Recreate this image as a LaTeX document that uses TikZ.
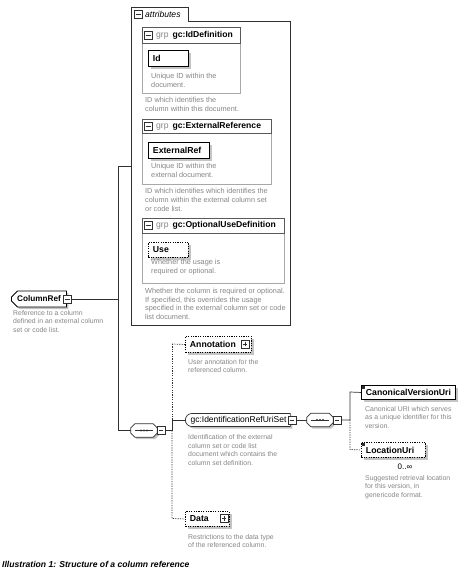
\documentclass[tikz,border=0pt]{standalone}
\usepackage{fontspec}
\setmainfont{Liberation Sans}
\usetikzlibrary{shapes.misc,shadows}
\definecolor{descc}{HTML}{858585}
\definecolor{linec}{HTML}{303030}
\definecolor{grpc}{HTML}{A8A8A8}
\definecolor{shadc}{HTML}{C4C4C4}
\newcommand\seqoct[1]{%
  \fill[shadc, transform canvas={xshift=2pt,yshift=-2pt}] ([xshift=4pt]#1.north west) -- ([xshift=-4pt]#1.north east) -- ([yshift=-4pt]#1.north east) -- ([yshift=4pt]#1.south east) -- ([xshift=-4pt]#1.south east) -- ([xshift=4pt]#1.south west) -- ([yshift=4pt]#1.south west) -- ([yshift=-4pt]#1.north west) -- cycle;
  \draw[linec, line width=0.7pt, fill=white] ([xshift=4pt]#1.north west) -- ([xshift=-4pt]#1.north east) -- ([yshift=-4pt]#1.north east) -- ([yshift=4pt]#1.south east) -- ([xshift=-4pt]#1.south east) -- ([xshift=4pt]#1.south west) -- ([yshift=4pt]#1.south west) -- ([yshift=-4pt]#1.north west) -- cycle;
  \draw[linec, line width=0.6pt] ([xshift=4pt]#1.west) -- ([xshift=-4pt]#1.east);
  \fill[linec] ([xshift=-3pt]#1.center) circle (1.1pt) (#1.center) circle (1.1pt) ([xshift=3pt]#1.center) circle (1.1pt);}
\begin{document}
\begin{tikzpicture}[x=1pt,y=-1pt,
  conn/.style={draw=linec, line width=0.7pt},
  opt/.style={draw=linec, line width=0.7pt, dash pattern=on 1.2pt off 1.2pt},
  desc/.style={anchor=north west, inner sep=0pt, text=descc, font=\fontsize{6.9}{8.5}\selectfont, align=left},
  descA/.style={desc, font=\fontsize{7.3}{8.6}\selectfont},
  elembox/.style={draw=black, line width=0.9pt, fill=white, anchor=north west, inner xsep=4.5pt, inner ysep=0pt, align=left, font=\bfseries\fontsize{8.7}{9}\selectfont, drop shadow={shadow xshift=2.5pt, shadow yshift=-2.5pt, fill=shadc, opacity=1}},
  optbox/.style={elembox, dash pattern=on 1.2pt off 1.2pt},
  grpbox/.style={draw=grpc, line width=0.8pt, fill=white, anchor=north west, inner sep=0pt},
  grphead/.style={draw=linec!80, line width=0.7pt, anchor=north west, inner sep=0pt},
  grptext/.style={anchor=west, inner sep=0pt, font=\fontsize{8.6}{9}\selectfont},
  seqnode/.style={minimum width=26pt, minimum height=13pt, inner sep=0pt},
  mbox/.style={draw=linec, fill=white, line width=0.5pt, minimum size=8pt, inner sep=0pt,
    path picture={\draw[linec, line width=0.6pt] ([xshift=1.6pt]path picture bounding box.west) -- ([xshift=-1.6pt]path picture bounding box.east);}},
  pbox/.style={draw=linec, fill=white, line width=0.5pt, minimum size=8pt, inner sep=0pt,
    path picture={\draw[linec, line width=0.6pt] ([xshift=1.6pt]path picture bounding box.west) -- ([xshift=-1.6pt]path picture bounding box.east);
      \draw[linec, line width=0.6pt] ([yshift=-1.6pt]path picture bounding box.north) -- ([yshift=1.6pt]path picture bounding box.south);}}
]
\useasboundingbox (0,0) rectangle (474,579);

% ---------- attributes container ----------
\draw[linec, line width=0.8pt] (131,325) -- (131,7) -- (188,7) -- (188,21) -- (290,21) -- (290,325) -- cycle;
\node[anchor=north west, minimum width=159pt, minimum height=304pt, inner sep=0pt] (attrs) at (131,21) {};
\node[mbox] (attm) at (138.5,14) {};
\node[anchor=west, inner sep=0pt, font=\itshape\fontsize{8.6}{9}\selectfont] (attt) at (145,14) {attributes};

% ---------- group 1 ----------
\node[grpbox, minimum width=98pt, minimum height=66pt] (g1) at (142,27) {};
\node[grphead, minimum width=98pt, minimum height=16pt] (g1h) at (142,27) {};
\node[mbox] (g1m) at (148.5,35) {};
\node[grptext] (g1t) at (156,35) {\textcolor{descc}{grp}\hspace{4pt}\textbf{gc:IdDefinition}};
\node[elembox, minimum height=16pt, text width=31pt] (id) at (148,50) {Id};
\node[descA] (idd) at (151,73) {Unique ID within the\\document.};
\node[descA] (g1d) at (145,97) {ID which identifies the\\column within this document.};

% ---------- group 2 ----------
\node[grpbox, minimum width=129pt, minimum height=65pt] (g2) at (142,119) {};
\node[grphead, minimum width=129pt, minimum height=14pt] (g2h) at (142,119) {};
\node[mbox] (g2m) at (148.5,126.5) {};
\node[grptext] (g2t) at (156,126.5) {\textcolor{descc}{grp}\hspace{4pt}\textbf{gc:ExternalReference}};
\node[elembox, minimum height=16pt, text width=52pt] (ext) at (148,142) {ExternalRef};
\node[descA] (extd) at (151,163.5) {Unique ID within the\\external document.};
\node[descA] (g2d) at (145,188.5) {ID which identifies which identifies the\\column within the external column set\\or code list.};

% ---------- group 3 ----------
\node[grpbox, minimum width=142pt, minimum height=65pt] (g3) at (142,218) {};
\node[grphead, minimum width=142pt, minimum height=15pt] (g3h) at (142,218) {};
\node[mbox] (g3m) at (148.5,225.5) {};
\node[grptext] (g3t) at (156,225.5) {\textcolor{descc}{grp}\hspace{4pt}\textbf{gc:OptionalUseDefinition}};
\node[optbox, minimum height=15pt, text width=31pt] (use) at (148,242) {Use};
\node[descA] (used) at (151,259) {Whether the usage is\\required or optional.};
\node[descA] (g3d) at (145,288) {Whether the column is required or optional.\\If specified, this overrides the usage\\specified in the external column set or code\\list document.};

% ---------- ColumnRef ----------
\node[chamfered rectangle, chamfered rectangle corners={north west,south west}, chamfered rectangle xsep=3pt, chamfered rectangle ysep=3pt, draw=black, line width=0.9pt, fill=white, minimum width=55pt, minimum height=16pt, inner sep=0pt, anchor=west, font=\bfseries\fontsize{8.2}{9}\selectfont, drop shadow={shadow xshift=2pt, shadow yshift=-2pt, fill=shadc, opacity=1}] (cref) at (11,299) {ColumnRef\hspace{8pt}};
\node[mbox] (crm) at (67.5,299) {};
\node[desc] (crefd) at (13,310) {Reference to a column\\defined in an external column\\set or code list.};

% ---------- sequence 1 ----------
\node[seqnode] (seq1) at (144,430.5) {};
\seqoct{seq1}
\node[mbox] (s1m) at (161,430.5) {};

% ---------- Annotation ----------
\node[optbox, minimum height=16pt, text width=57pt] (annot) at (185,336) {Annotation};
\node[pbox] (annp) at (245,344) {};
\node[desc] (annd) at (188,359) {User annotation for the\\referenced column.};

% ---------- IdentificationRefUriSet ----------
\node[rounded rectangle, rounded rectangle right arc=none, draw=linec, line width=0.7pt, fill=white, minimum width=105pt, minimum height=13pt, inner sep=0pt, anchor=west, font=\fontsize{8.5}{9}\selectfont, drop shadow={shadow xshift=2pt, shadow yshift=-2pt, fill=shadc, opacity=1}] (ident) at (185,420) {gc:IdentificationRefUriSet};
\node[mbox] (idm) at (292,420) {};
\node[desc] (identd) at (188,434.5) {Identification of the external\\column set or code list\\document which contains the\\column set definition.};

% ---------- Data ----------
\node[optbox, minimum height=15pt, text width=35pt] (data) at (185,511) {Data};
\node[pbox] (datap) at (224,518.5) {};
\node[desc] (datad) at (188,534) {Restrictions to the data type\\of the referenced column.};

% ---------- sequence 2 ----------
\node[seqnode] (seq2) at (320,420) {};
\seqoct{seq2}
\node[mbox] (s2m) at (337,420) {};

% ---------- CanonicalVersionUri / LocationUri ----------
\node[elembox, minimum height=14pt, text width=85pt] (canon) at (361,385) {CanonicalVersionUri};
\fill[linec] (362,386) rectangle (365,389);
\node[desc] (canond) at (365,406) {Canonical URI which serves\\as a unique identifier for this\\version.};
\node[optbox, minimum height=15pt, text width=55pt] (loc) at (361,442) {LocationUri};
\fill[linec] (362,443) rectangle (365,446);
\node[anchor=center, inner sep=0pt, font=\fontsize{8}{9}\selectfont] (locm) at (405,467) {0..∞};
\node[desc] (locd) at (365,475) {Suggested retrieval location\\for this version, in\\genericode format.};

% ---------- connectors ----------
\coordinate (j1) at (118,166);
\coordinate (j2) at (118,299);
\coordinate (j3) at (118,430.5);
\draw[conn] (crm.east) -- (j2);
\draw[conn] (j1) -- (j3);
\draw[conn] (j1) -- (j1 -| attrs.west);
\draw[conn] (j3) -- (seq1.west);

\coordinate (k1) at (172,344);
\coordinate (k2) at (172,420);
\coordinate (k3) at (172,430.5);
\coordinate (k4) at (172,518.5);
\draw[conn] (s1m.east) -- (k3) -- (k2) -- (ident.west);
\draw[opt] (k1) -- (annot.west);
\draw[opt] (k1) -- (k2);
\draw[opt] (k3) -- (k4) -- (data.west);

\coordinate (m1) at (350,392);
\coordinate (m2) at (350,420);
\coordinate (m3) at (350,449.5);
\draw[conn] (idm.east) -- (seq2.west);
\draw[conn] (s2m.east) -- (m2) -- (m1) -- (canon.west);
\draw[opt] (m2) -- (m3) -- (loc.west);

% ---------- caption ----------
\node[anchor=west, inner sep=0pt, font=\bfseries\itshape\fontsize{8.6}{9}\selectfont] (cap) at (2,564) {Illustration 1: Structure of a column reference};
\end{tikzpicture}
\end{document}
